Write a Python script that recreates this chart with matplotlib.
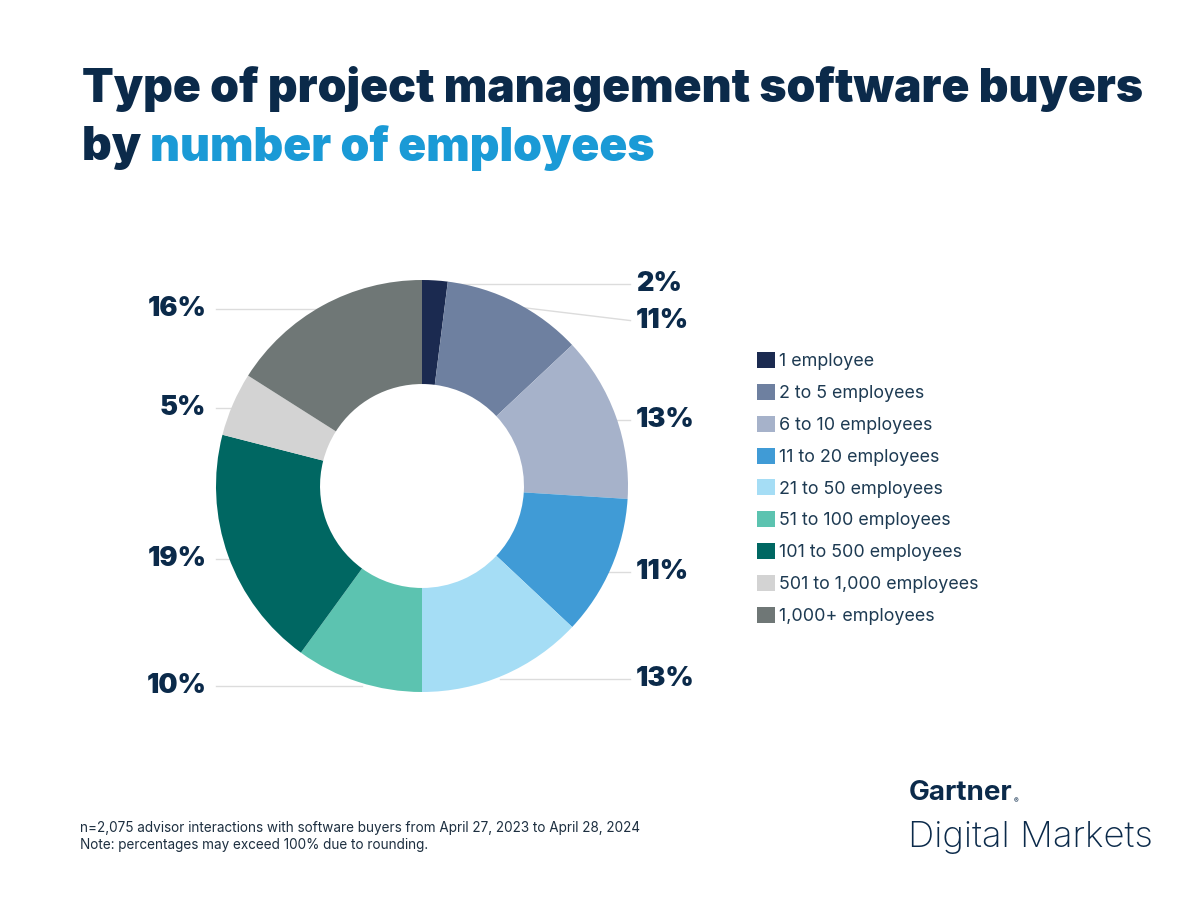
import numpy as np
import matplotlib
matplotlib.use("Agg")
import matplotlib.pyplot as plt
from matplotlib.patches import Patch

categories = ["1 employee", "2 to 5 employees", "6 to 10 employees", "11 to 20 employees",
              "21 to 50 employees", "51 to 100 employees", "101 to 500 employees",
              "501 to 1,000 employees", "1,000+ employees"]
values = [2, 11, 13, 11, 13, 10, 19, 5, 16]
labels = ["2%", "11%", "13%", "11%", "13%", "10%", "19%", "5%", "16%"]
colors = ["#1b2a50", "#6e80a0", "#a6b2ca", "#409bd6", "#a5ddf5",
          "#5cc3b0", "#006762", "#d3d3d3", "#6f7776"]

NAVY = "#0b2a4a"
BLUE = "#1a9ad6"
FONT = "Inter"

W, H = 1200, 900
fig = plt.figure(figsize=(12, 9), dpi=100)

# Pie axes: center (422, 486) px, radius 206 px -> radius 1
cx, cy, R = 422, 486, 206
half = 320
ax = fig.add_axes([(cx - half) / W, 1 - (cy + half) / H, 2 * half / W, 2 * half / H])

wedges, _ = ax.pie(values, colors=colors, startangle=90, counterclock=False,
                   radius=1.0, wedgeprops=dict(width=0.505, linewidth=0),
                   center=(0, 0))
lim = half / R
ax.set_xlim(-lim, lim)
ax.set_ylim(-lim, lim)
ax.set_aspect("equal")
ax.axis("off")

# Labels with leader lines
total = sum(values)
cum = np.cumsum([0] + values)
label_shift = {1: -0.07}
text_dy = -0.018
for i, (v, lab) in enumerate(zip(values, labels)):
    frac = (cum[i] + v / 2) / total
    ang = np.deg2rad(90 - 360 * frac)
    x0, y0 = np.cos(ang), np.sin(ang)
    ly = y0 + label_shift.get(i, 0.0) + text_dy
    if x0 >= 0:
        xe = 1.012
        xt = 1.04
        ha = "left"
    else:
        xe = -1.0
        xt = -1.047
        ha = "right"
    ax.plot([x0 * 0.95, xe], [y0 + text_dy, ly], color="#dcdcdc", lw=1.0, zorder=0)
    ax.text(xt, ly, lab, ha=ha, va="center", fontsize=19.5,
            fontweight="black", color=NAVY, family=FONT)

# Legend
handles = [Patch(facecolor=c, edgecolor="none") for c in colors]
leg = fig.legend(handles, categories, loc="upper left",
                 bbox_to_anchor=(757 / W, 1 - 352 / H), frameon=False,
                 prop=dict(family=FONT, size=12.9), labelcolor="#1d3a52",
                 handlelength=1.0, handleheight=1.0, handletextpad=0.25,
                 labelspacing=0.765, borderpad=0, borderaxespad=0)

# Title
t1 = fig.text(82 / W, 1 - 89 / H, "Type of project management software buyers",
              fontsize=33.3, fontweight="black", color=NAVY, family=FONT,
              va="center", ha="left")
t2 = fig.text(82 / W, 1 - 148 / H, "by ", fontsize=33.3, fontweight="black",
              color=NAVY, family=FONT, va="center", ha="left")
fig.canvas.draw()
bb = t2.get_window_extent()
fig.text(bb.x1 / W, 1 - 148 / H, "number of employees", fontsize=33.3,
         fontweight="black", color=BLUE, family=FONT, va="center", ha="left")

# Footer
fig.text(80 / W, 1 - 828 / H,
         "n=2,075 advisor interactions with software buyers from April 27, 2023 to April 28, 2024",
         fontsize=9.75, color="#1d2f40", family=FONT, va="center", ha="left")
fig.text(80 / W, 1 - 845 / H, "Note: percentages may exceed 100% due to rounding.",
         fontsize=9.75, color="#1d2f40", family=FONT, va="center", ha="left")

# Logo
g = fig.text(909 / W, 1 - 793 / H, "Gartner", fontsize=20, fontweight="bold",
             color=NAVY, family=FONT, va="center", ha="left")
fig.canvas.draw()
gb = g.get_window_extent()
fig.text(gb.x1 / W + 0.0005, 1 - 801 / H, "®", fontsize=5, color=NAVY,
         family=FONT, va="center", ha="left")
fig.text(908 / W, 1 - 838 / H, "Digital Markets", fontsize=26.3, fontweight="light",
         color=NAVY, family=FONT, va="center", ha="left")

fig.savefig("out.png", dpi=100, facecolor="white")
